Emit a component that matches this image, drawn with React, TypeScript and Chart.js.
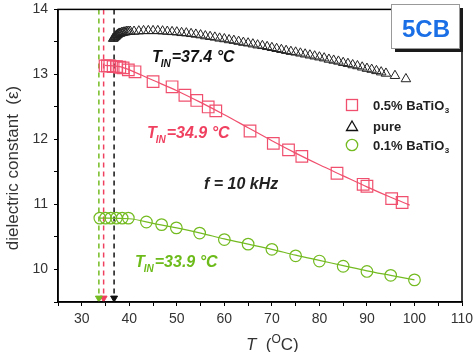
import React, { useEffect, useRef } from 'react';
import { Chart, registerables } from 'chart.js';

Chart.register(...registerables);

// ---- data ----
const pureT = [36.6, 36.75, 36.9, 37.05, 37.2, 37.35, 37.5, 37.7, 37.9, 38.1, 38.35, 38.6, 38.9, 39.2, 39.5, 39.85, 40.2,
  41, 42, 43, 44, 45, 46, 47, 48, 49, 50, 51, 52, 53, 54, 55, 56, 57, 58, 59, 60, 61, 62, 63, 64, 65, 66, 67, 68, 69, 70,
  71, 72, 73, 74, 75, 76, 77, 78, 79, 80, 81, 82, 83, 84, 85, 86, 87, 88, 89, 90, 91, 92, 93, 94, 95.9, 98.2];
const pureEps = [13.55, 13.56, 13.57, 13.58, 13.59, 13.6, 13.61, 13.62, 13.63, 13.63, 13.64, 13.64, 13.65, 13.65, 13.66, 13.66, 13.66,
  13.66, 13.665, 13.67, 13.67, 13.67, 13.67, 13.665, 13.66, 13.655, 13.65, 13.64, 13.635, 13.625, 13.615, 13.605, 13.59, 13.58, 13.57,
  13.555, 13.545, 13.53, 13.52, 13.505, 13.49, 13.48, 13.465, 13.45, 13.44, 13.425, 13.41, 13.395, 13.38, 13.365, 13.35, 13.34,
  13.325, 13.31, 13.295, 13.28, 13.265, 13.25, 13.23, 13.215, 13.2, 13.18, 13.165, 13.145, 13.13, 13.11, 13.09, 13.075, 13.055,
  13.035, 13.015, 12.98, 12.93];

const ba05T = [34.9, 35.4, 35.9, 36.6, 37.3, 38.0, 38.7, 39.8, 41.2, 45.0, 49.0, 51.7, 54.2, 56.6, 58.2, 65.4, 70.3, 73.5, 76.3, 83.7, 89.2, 90.0, 95.2, 97.4];
const ba05Eps = [13.13, 13.13, 13.13, 13.12, 13.12, 13.11, 13.1, 13.07, 13.04, 12.89, 12.81, 12.68, 12.6, 12.5, 12.44, 12.13, 11.94, 11.84, 11.74, 11.48, 11.31, 11.28, 11.09, 11.03];
const fit05T = [34.9, 38, 41, 45, 50, 55, 60, 65, 70, 75, 80, 85, 90, 95, 99];
const fit05Eps = [13.14, 13.12, 13.04, 12.91, 12.75, 12.57, 12.38, 12.18, 11.98, 11.79, 11.61, 11.44, 11.27, 11.11, 10.99];

const ba01T = [33.8, 35.0, 36.1, 37.3, 38.5, 39.8, 43.6, 46.8, 49.9, 54.8, 60, 65, 70, 75, 80, 85, 90, 95, 100];
const ba01Eps = [10.79, 10.79, 10.79, 10.79, 10.79, 10.79, 10.73, 10.69, 10.64, 10.56, 10.46, 10.39, 10.31, 10.21, 10.13, 10.05, 9.97, 9.91, 9.84];
const fit01T = [33.8, 40, 45, 50, 55, 60, 65, 70, 75, 80, 85, 90, 95, 100];
const fit01Eps = [10.79, 10.78, 10.71, 10.64, 10.56, 10.47, 10.39, 10.31, 10.22, 10.14, 10.06, 9.98, 9.91, 9.84];

const transitionT = [33.6, 34.6, 36.8]; // green, red, black arrows
const yTop = 14;
const yArrow = 9.56;

const xMin = 25, xMax = 110, xStep = 5;
const yMin = 9.5, yMax = 14, yStep = 0.5;

const RED = '#f0506e';
const GREEN = '#74bb22';
const BLACK = '#111111';
const FONT = '"Liberation Sans", Arial, Helvetica, sans-serif';

const pts = (xs: number[], ys: number[]) => xs.map((x, i) => ({ x, y: ys[i] }));

function drawTin(ctx: CanvasRenderingContext2D, x: number, y: number, color: string, rest: string) {
  ctx.fillStyle = color;
  ctx.textAlign = 'left';
  ctx.textBaseline = 'alphabetic';
  ctx.font = `italic bold 16px ${FONT}`;
  ctx.fillText('T', x, y);
  const w1 = ctx.measureText('T').width;
  ctx.font = `italic bold 10px ${FONT}`;
  ctx.fillText('IN', x + w1 - 1, y + 5);
  const w2 = ctx.measureText('IN').width;
  ctx.font = `italic bold 16px ${FONT}`;
  ctx.fillText(rest, x + w1 + w2, y);
}

const decorPlugin = {
  id: 'decor',
  afterDraw(chart: any) {
    const ctx: CanvasRenderingContext2D = chart.ctx;
    const a = chart.chartArea;
    ctx.save();
    // frame (top/right)
    ctx.strokeStyle = '#000';
    ctx.lineWidth = 1.5;
    ctx.strokeRect(a.left, a.top, a.right - a.left, a.bottom - a.top);

    // 5CB box
    ctx.fillStyle = '#1a1a1a';
    ctx.fillRect(395, 8, 68, 44);
    ctx.fillStyle = '#fff';
    ctx.fillRect(391, 4, 68, 44);
    ctx.strokeStyle = '#999';
    ctx.lineWidth = 1;
    ctx.strokeRect(391.5, 4.5, 68, 44);
    ctx.fillStyle = '#1a6ee6';
    ctx.font = `bold 24px ${FONT}`;
    ctx.textAlign = 'center';
    ctx.textBaseline = 'alphabetic';
    ctx.fillText('5CB', 426, 37);

    // annotations
    drawTin(ctx, 152, 62, BLACK, '=37.4 °C');
    drawTin(ctx, 147, 138, '#f04060', '=34.9 °C');
    drawTin(ctx, 135, 267, '#6cbb1a', '=33.9 °C');
    ctx.fillStyle = '#222';
    ctx.font = `italic bold 16px ${FONT}`;
    ctx.textAlign = 'left';
    ctx.fillText('f = 10 kHz', 204, 189);

    // legend
    const lx = 352;
    ctx.lineWidth = 1.3;
    ctx.strokeStyle = RED;
    ctx.strokeRect(lx - 5.5, 105 - 5.5, 11, 11);
    ctx.strokeStyle = BLACK;
    ctx.beginPath();
    ctx.moveTo(lx, 121);
    ctx.lineTo(lx + 5.5, 130.5);
    ctx.lineTo(lx - 5.5, 130.5);
    ctx.closePath();
    ctx.stroke();
    ctx.strokeStyle = GREEN;
    ctx.beginPath();
    ctx.arc(lx, 145, 5.7, 0, Math.PI * 2);
    ctx.stroke();

    ctx.fillStyle = '#222';
    const tx = 373;
    const sub = (label: string, y: number) => {
      ctx.font = `bold 13px ${FONT}`;
      ctx.fillText(label, tx, y);
      const w = ctx.measureText(label).width;
      ctx.font = `bold 8px ${FONT}`;
      ctx.fillText('3', tx + w + 0.5, y + 3);
    };
    sub('0.5% BaTiO', 110);
    ctx.font = `bold 13px ${FONT}`;
    ctx.fillText('pure', tx, 131);
    sub('0.1% BaTiO', 150);

    // axis titles
    ctx.fillStyle = '#333';
    ctx.font = `italic 17px ${FONT}`;
    ctx.textAlign = 'left';
    let x = 246;
    const by = 350;
    ctx.fillText('T', x, by);
    x += ctx.measureText('T').width;
    ctx.font = `17px ${FONT}`;
    ctx.fillText('  (', x, by);
    x += ctx.measureText('  (').width;
    ctx.font = `12px ${FONT}`;
    ctx.fillText('O', x, by - 7);
    x += ctx.measureText('O').width;
    ctx.font = `17px ${FONT}`;
    ctx.fillText('C)', x, by);

    ctx.translate(18, 168);
    ctx.rotate(-Math.PI / 2);
    ctx.textAlign = 'center';
    ctx.font = `17px ${FONT}`;
    ctx.fillText('dielectric constant  (ε)', 0, 0);
    ctx.restore();
  },
};

export default function App() {
  const ref = useRef<HTMLCanvasElement | null>(null);
  useEffect(() => {
    if (!ref.current) return;
    const arrowColors = [GREEN, '#f04060', BLACK];
    const arrowSets = transitionT.map((t, i) => ({
      data: [{ x: t, y: yTop }, { x: t, y: yArrow }],
      showLine: true,
      borderColor: arrowColors[i],
      borderWidth: 1.5,
      borderDash: [5, 4],
      pointRadius: [0, 4],
      pointStyle: 'triangle',
      rotation: 180,
      pointBackgroundColor: arrowColors[i],
      pointBorderColor: arrowColors[i],
      pointBorderWidth: 1,
      order: 3,
    }));
    const chart = new Chart(ref.current, {
      type: 'scatter',
      data: {
        datasets: [
          {
            data: pts(pureT, pureEps),
            pointStyle: 'triangle',
            pointRadius: 5.5,
            borderColor: '#222',
            backgroundColor: 'rgba(0,0,0,0)',
            pointBorderWidth: 1,
            order: 1,
          },
          {
            data: pts(ba05T, ba05Eps),
            pointStyle: 'rect',
            pointRadius: 8.2,
            borderColor: RED,
            backgroundColor: 'rgba(0,0,0,0)',
            pointBorderWidth: 1.2,
            order: 1,
          },
          {
            data: pts(ba01T, ba01Eps),
            pointStyle: 'circle',
            pointRadius: 5.8,
            borderColor: GREEN,
            backgroundColor: 'rgba(0,0,0,0)',
            pointBorderWidth: 1.2,
            order: 1,
          },
          {
            data: pts(fit05T, fit05Eps),
            showLine: true,
            pointRadius: 0,
            borderColor: RED,
            borderWidth: 1.2,
            cubicInterpolationMode: 'monotone',
            order: 2,
          },
          {
            data: pts(fit01T, fit01Eps),
            showLine: true,
            pointRadius: 0,
            borderColor: GREEN,
            borderWidth: 1.2,
            cubicInterpolationMode: 'monotone',
            order: 2,
          },
          ...arrowSets,
        ] as any,
      },
      options: {
        animation: false,
        responsive: false,
        events: [],
        layout: { padding: { top: 6, right: 12, left: 0, bottom: 0 } },
        plugins: { legend: { display: false }, tooltip: { enabled: false } },
        scales: {
          x: {
            type: 'linear',
            min: xMin,
            max: xMax,
            afterFit: (s: any) => { s.height = 50; s.paddingLeft = 0; s.paddingRight = 0; },
            ticks: {
              stepSize: xStep,
              autoSkip: false,
              maxRotation: 0,
              padding: 5,
              color: '#333',
              font: { family: FONT, size: 14 },
              callback: (v: any) => (v % 10 === 0 && v >= 30 ? String(v) : ''),
            },
            grid: { drawOnChartArea: false, drawTicks: true, tickLength: 4, color: '#000', lineWidth: 1 },
            border: { display: true, color: '#000', width: 1.5 },
          },
          y: {
            type: 'linear',
            min: yMin,
            max: yMax,
            afterFit: (s: any) => { s.width = 58; s.paddingTop = 0; s.paddingBottom = 0; },
            ticks: {
              stepSize: yStep,
              autoSkip: false,
              padding: 6,
              color: '#333',
              font: { family: FONT, size: 14 },
              callback: (v: any) => (Number.isInteger(v) ? String(v) : ''),
            },
            grid: { drawOnChartArea: false, drawTicks: true, tickLength: 4, color: '#000', lineWidth: 1 },
            border: { display: true, color: '#000', width: 1.5 },
          },
        },
      } as any,
      plugins: [decorPlugin],
    });
    return () => chart.destroy();
  }, []);
  return (
    <div style={{ position: 'fixed', left: 0, top: 0, width: 474, height: 352, background: '#fff' }}>
      <canvas ref={ref} width={474} height={352} style={{ display: 'block' }} />
    </div>
  );
}
